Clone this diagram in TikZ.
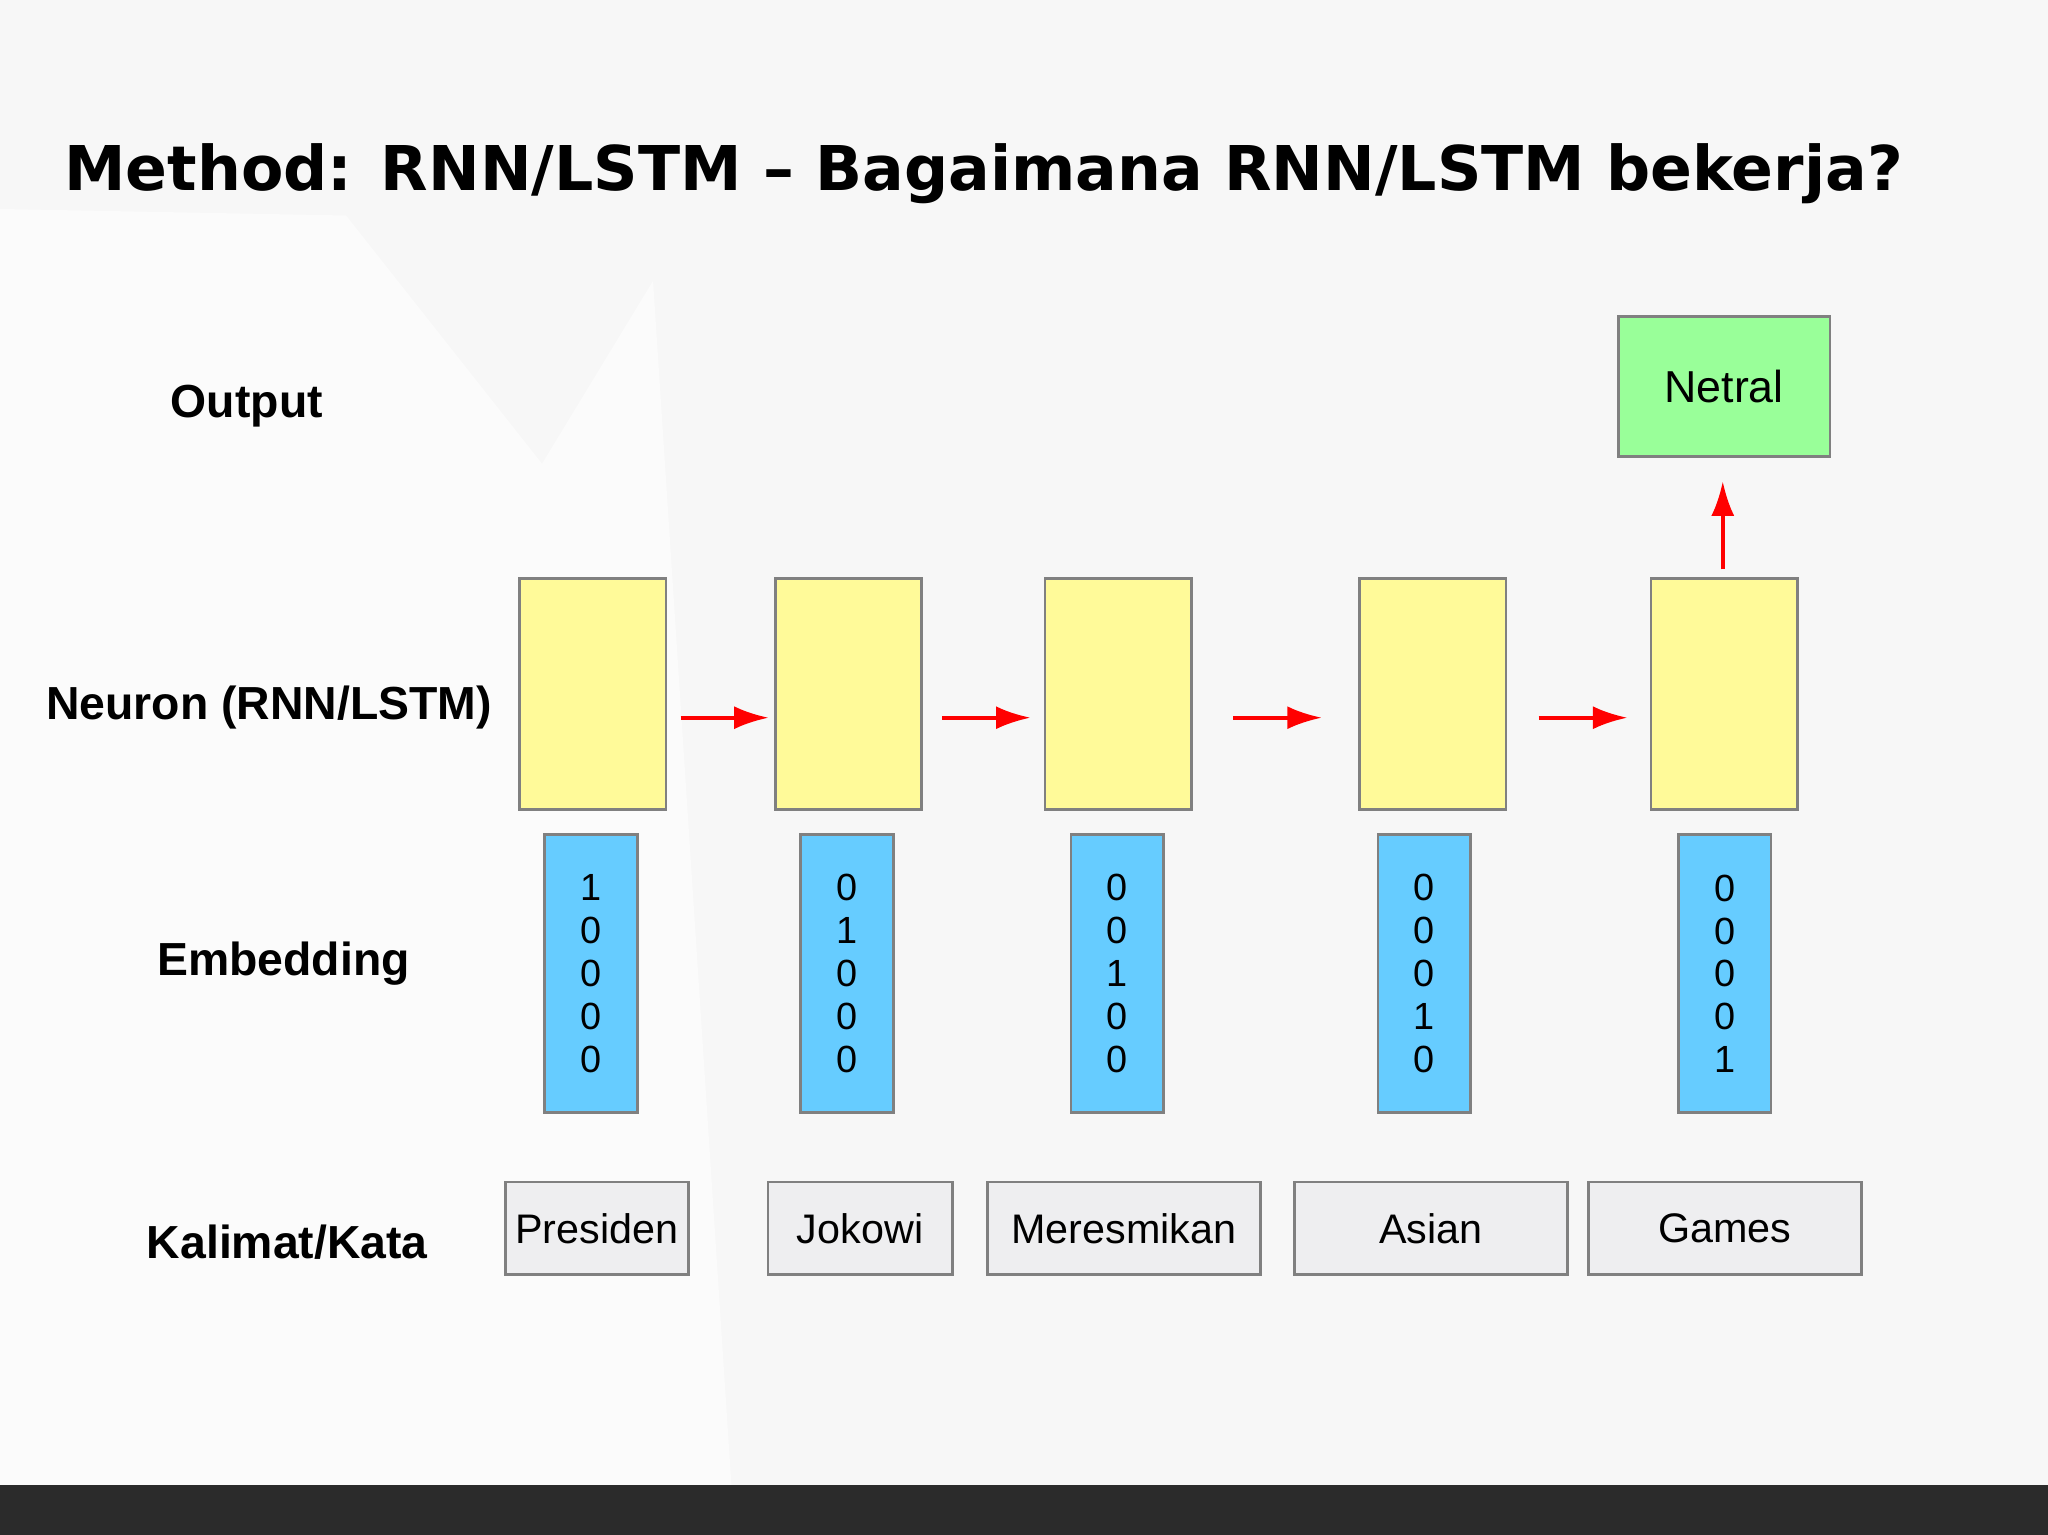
\documentclass[tikz,border=0pt]{standalone}
\usepackage{fontspec}
\setmainfont{Liberation Sans}
\newfontfamily\titlefont{DejaVu Sans}
\usetikzlibrary{arrows.meta}
\begin{document}
\begin{tikzpicture}[x=0.02cm,y=-0.02cm,
  neuron/.style={draw=black!50,line width=1.2pt,fill=yellow!40!white,minimum width=2.24cm,minimum height=3.54cm,inner sep=0},
  emb/.style={draw=black!50,line width=1.2pt,fill={rgb,255:red,102;green,204;blue,255},minimum width=1.42cm,minimum height=4.26cm,inner sep=0,align=center,font=\fontsize{16.5}{18.7}\selectfont},
  word/.style={draw=black!50,line width=1.2pt,fill={rgb,255:red,238;green,238;blue,240},minimum height=1.42cm,inner sep=0,font=\fontsize{18}{20}\selectfont},
  lab/.style={font=\bfseries\fontsize{20.2}{23}\selectfont},
  arr/.style={red,line width=1.6pt,-{Latex[length=15pt,width=10pt]}}]
\useasboundingbox (0,0) rectangle (1568,1175);
\fill[black!3] (0,0) rectangle (1568,1137);
\fill[black!1.5] (0,160) -- (265,165) -- (415,355) -- (500,215) -- (560,1137) -- (0,1137) -- cycle;
\fill[black!83] (0,1137) rectangle (1568,1175);
\node[anchor=west,font=\titlefont\bfseries\fontsize{26.9}{32}\selectfont] (title) at (43,133) {Method: RNN/LSTM – Bagaimana RNN/LSTM bekerja?};
\node[lab] (lo) at (189,311) {Output};
\node[lab] (ln) at (206,542) {Neuron (RNN/LSTM)};
\node[lab] (le) at (217,738) {Embedding};
\node[lab] (lk) at (220,951) {Kalimat/Kata};
\node[draw=black!50,line width=1.2pt,fill={rgb,255:red,153;green,255;blue,153},minimum width=3.24cm,minimum height=2.14cm,font=\fontsize{19.5}{22}\selectfont] (out) at (1320,296) {Netral};
\foreach \i/\x in {1/454,2/649.5,3/856,4/1097,5/1320}{
  \node[neuron] (n\i) at (\x,531.5) {};}
\node[emb] (e1) at (452.5,745.5) {1\\0\\0\\0\\0};
\node[emb] (e2) at (648.5,745.5) {0\\1\\0\\0\\0};
\node[emb] (e3) at (855.5,745.5) {0\\0\\1\\0\\0};
\node[emb] (e4) at (1090.5,745.5) {0\\0\\0\\1\\0};
\node[emb] (e5) at (1320.5,745.5) {0\\0\\0\\0\\1};
\node[word,minimum width=2.8cm] (w1) at (457,940.5) {Presiden};
\node[word,minimum width=2.82cm] (w2) at (658.5,940.5) {Jokowi};
\node[word,minimum width=4.18cm] (w3) at (860.5,940.5) {Meresmikan};
\node[word,minimum width=4.18cm] (w4) at (1095.5,940.5) {Asian};
\node[word,minimum width=4.18cm] (w5) at (1320.5,940.5) {Games};
\draw[arr] ([xshift=0.2cm,yshift=-0.36cm]n1.east) -- ([xshift=-0.08cm,yshift=-0.36cm]n2.west);
\draw[arr] ([xshift=0.3cm,yshift=-0.36cm]n2.east) -- ([xshift=-0.2cm,yshift=-0.36cm]n3.west);
\draw[arr] ([xshift=0.62cm,yshift=-0.36cm]n3.east) -- ([xshift=-0.56cm,yshift=-0.36cm]n4.west);
\draw[arr] ([xshift=0.48cm,yshift=-0.36cm]n4.east) -- ([xshift=-0.34cm,yshift=-0.36cm]n5.west);
\draw[arr] ([xshift=-0.02cm,yshift=0.12cm]n5.north) -- ([xshift=-0.02cm,yshift=-0.36cm]out.south);
\end{tikzpicture}
\end{document}
